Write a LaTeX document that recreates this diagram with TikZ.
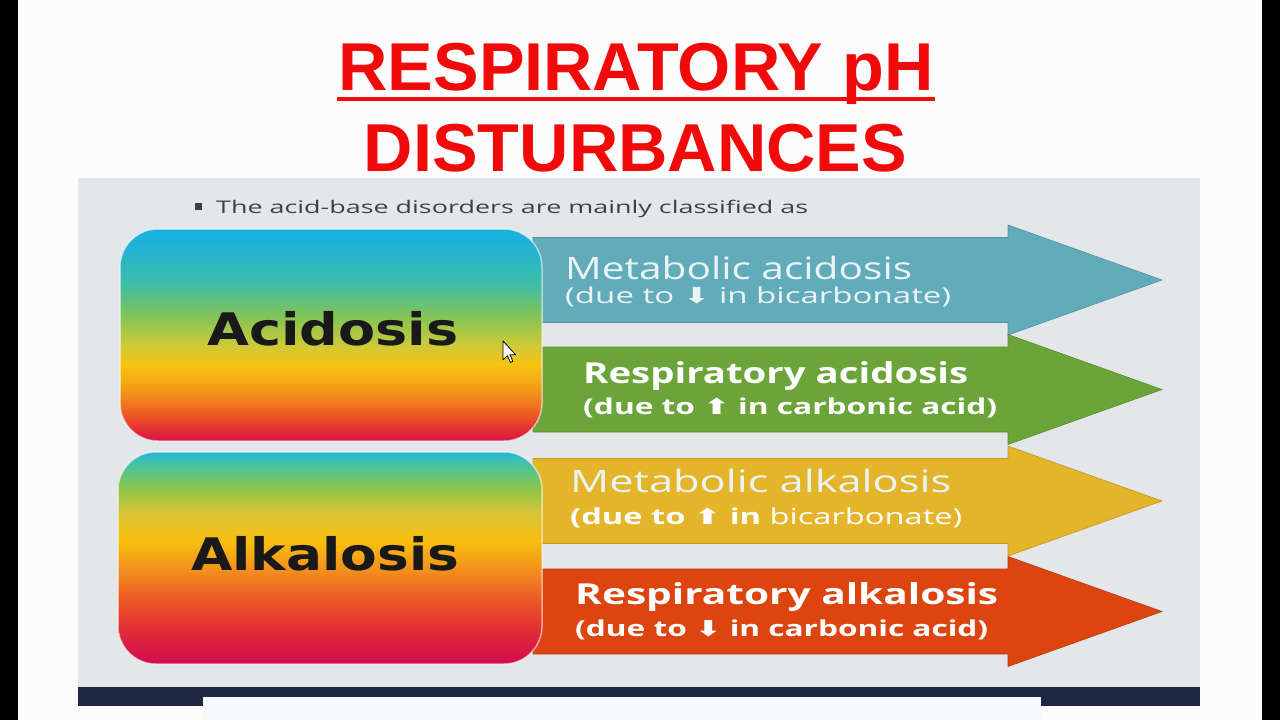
\documentclass[tikz,border=0pt]{standalone}
\usepackage{fontspec}
\usepackage{graphicx}
\setmainfont{Open Sans}
\newfontfamily\titlefont{Liberation Sans}
\newfontfamily\boxfont{DejaVu Sans}
\newfontfamily\symfont{DejaVu Sans}
\newcommand{\fitw}[2]{\resizebox{#1bp}{\height}{#2}}
\newcommand{\fsz}[1]{\fontsize{#1}{#1}\selectfont}
\newcommand{\arrdn}{{\symfont ⬇}}
\newcommand{\arrup}{{\symfont ⬆}}
\definecolor{titlered}{HTML}{F00A0A}
\definecolor{panelbg}{HTML}{E3E7EA}
\definecolor{barnavy}{HTML}{1E2842}
\definecolor{pagebg}{HTML}{FCFCFC}
\definecolor{bottombox}{HTML}{F7F8F9}
\definecolor{bodytext}{HTML}{404040}
\definecolor{arrteal}{HTML}{62ABBA}
\definecolor{arrgreen}{HTML}{6BA539}
\definecolor{arrgold}{HTML}{E4B52B}
\definecolor{arrred}{HTML}{DC4510}
\definecolor{lighttext}{HTML}{EAF4F5}
% acidosis gradient stops
\definecolor{aA}{HTML}{D5124E}
\definecolor{aB}{HTML}{E6302F}
\definecolor{aC}{HTML}{EF7420}
\definecolor{aD}{HTML}{F5A115}
\definecolor{aE}{HTML}{F8C312}
\definecolor{aF}{HTML}{CFC938}
\definecolor{aG}{HTML}{82C456}
\definecolor{aH}{HTML}{3EBDA8}
\definecolor{aI}{HTML}{1CB1DE}
% alkalosis gradient stops
\definecolor{kA}{HTML}{D3104F}
\definecolor{kB}{HTML}{E22C36}
\definecolor{kC}{HTML}{EB5726}
\definecolor{kD}{HTML}{F28E1E}
\definecolor{kE}{HTML}{F8BF10}
\definecolor{kF}{HTML}{D7C436}
\definecolor{kG}{HTML}{82C74F}
\definecolor{kH}{HTML}{3FC0B0}
\definecolor{kI}{HTML}{1EB4DA}
\pgfdeclareverticalshading{acidshade}{100bp}{color(0bp)=(aA); color(25bp)=(aA); color(28bp)=(aB); color(33.5bp)=(aC); color(38bp)=(aD); color(43bp)=(aE); color(47.5bp)=(aF); color(54.5bp)=(aG); color(62bp)=(aH); color(72.5bp)=(aI); color(100bp)=(aI)}
\pgfdeclareverticalshading{alkshade}{100bp}{color(0bp)=(kA); color(26bp)=(kA); color(33bp)=(kB); color(40bp)=(kC); color(47bp)=(kD); color(54bp)=(kE); color(61bp)=(kF); color(67bp)=(kG); color(73bp)=(kH); color(75bp)=(kI); color(100bp)=(kI)}
\begin{document}
\begin{tikzpicture}[x=1bp,y=-1bp,
  lbl/.style={anchor=base west, inner sep=0pt, text=white},
  blockarr/.style={fill=#1, draw=#1!85!black, line width=0.6bp, line join=miter},
  gradbox/.style={rounded corners=38bp, draw=white, draw opacity=0.55, line width=1.5bp}]
\useasboundingbox (0,0) rectangle (1280,720);
% page
\fill[pagebg] (0,0) rectangle (1280,720);
\fill[black] (0,0) rectangle (18,720);
\fill[black] (1262,0) rectangle (1280,720);
% title
\node[anchor=base, inner sep=0pt, text=titlered, font=\titlefont\bfseries\fsz{68}] (t1) at (636,91) {\fitw{595}{RESPIRATORY pH}};
\draw[titlered, line width=4bp] (337,99) -- (935,99);
\node[anchor=base, inner sep=0pt, text=titlered, font=\titlefont\bfseries\fsz{68}] (t2) at (635.5,172) {\fitw{543}{DISTURBANCES}};
% slide panel
\fill[panelbg] (78,178) rectangle (1200,687);
\fill[barnavy] (78,687) rectangle (1200,706);
\fill[bottombox] (203,697) rectangle (1041,720);
% bullet line
\fill[bodytext] (195,203.5) rectangle (202,210);
\node[anchor=base west, inner sep=0pt, text=bodytext, font=\fsz{17.5}] (intro) at (216,214) {\fitw{592}{The acid-base disorders are mainly classified as}};
% arrows
\newcommand{\blockarrow}[2]{%
  \path[blockarr=#1] (533,#2-42.5) -- (1008,#2-42.5) -- (1008,#2-55) -- (1162,#2) -- (1008,#2+55) -- (1008,#2+42.5) -- (533,#2+42.5) -- cycle;}
\blockarrow{arrteal}{280}
\blockarrow{arrgreen}{389.5}
\blockarrow{arrgold}{501}
\blockarrow{arrred}{611.5}
% gradient boxes
\path[gradbox, shading=acidshade] (120,229) rectangle (542,441);
\path[gradbox, shading=alkshade] (118,452) rectangle (542,664);
\node[anchor=base west, inner sep=0pt, text=black!90, font=\boxfont\bfseries\fsz{45}] (acid) at (207,345) {\fitw{251}{Acidosis}};
\node[anchor=base west, inner sep=0pt, text=black!90, font=\boxfont\bfseries\fsz{45}] (alk) at (191,570) {\fitw{268}{Alkalosis}};
% arrow labels
\node[lbl, text=lighttext, font=\fsz{31}] (ma) at (565,279) {\fitw{347}{Metabolic acidosis}};
\node[lbl, text=lighttext, font=\fsz{22}] (mas) at (565,303) {\fitw{386}{(due to \arrdn\ in bicarbonate)}};
\node[lbl, font=\bfseries\fsz{29}] (ra) at (583,383) {\fitw{385}{Respiratory acidosis}};
\node[lbl, font=\bfseries\fsz{22}] (ras) at (583,414) {\fitw{414}{(due to \arrup\ in carbonic acid)}};
\node[lbl, text=lighttext, font=\fsz{31}] (mk) at (570,492) {\fitw{381}{Metabolic alkalosis}};
\node[lbl, font=\fsz{22}] (mks) at (570,524) {\fitw{392}{{\bfseries (due to \arrup\ in} bicarbonate)}};
\node[lbl, font=\bfseries\fsz{29}] (rk) at (575,604) {\fitw{423}{Respiratory alkalosis}};
\node[lbl, font=\bfseries\fsz{22}] (rks) at (575,636) {\fitw{413}{(due to \arrdn\ in carbonic acid)}};
% mouse pointer
\path[fill=white, draw=black, line width=0.8bp, line join=round, shift={(503,341)}, scale=1.1]
  (0,0) -- (0,17) -- (4,13.5) -- (6.8,19.5) -- (9,18.5) -- (6.3,12.5) -- (11.5,12.5) -- cycle;
\end{tikzpicture}
\end{document}
